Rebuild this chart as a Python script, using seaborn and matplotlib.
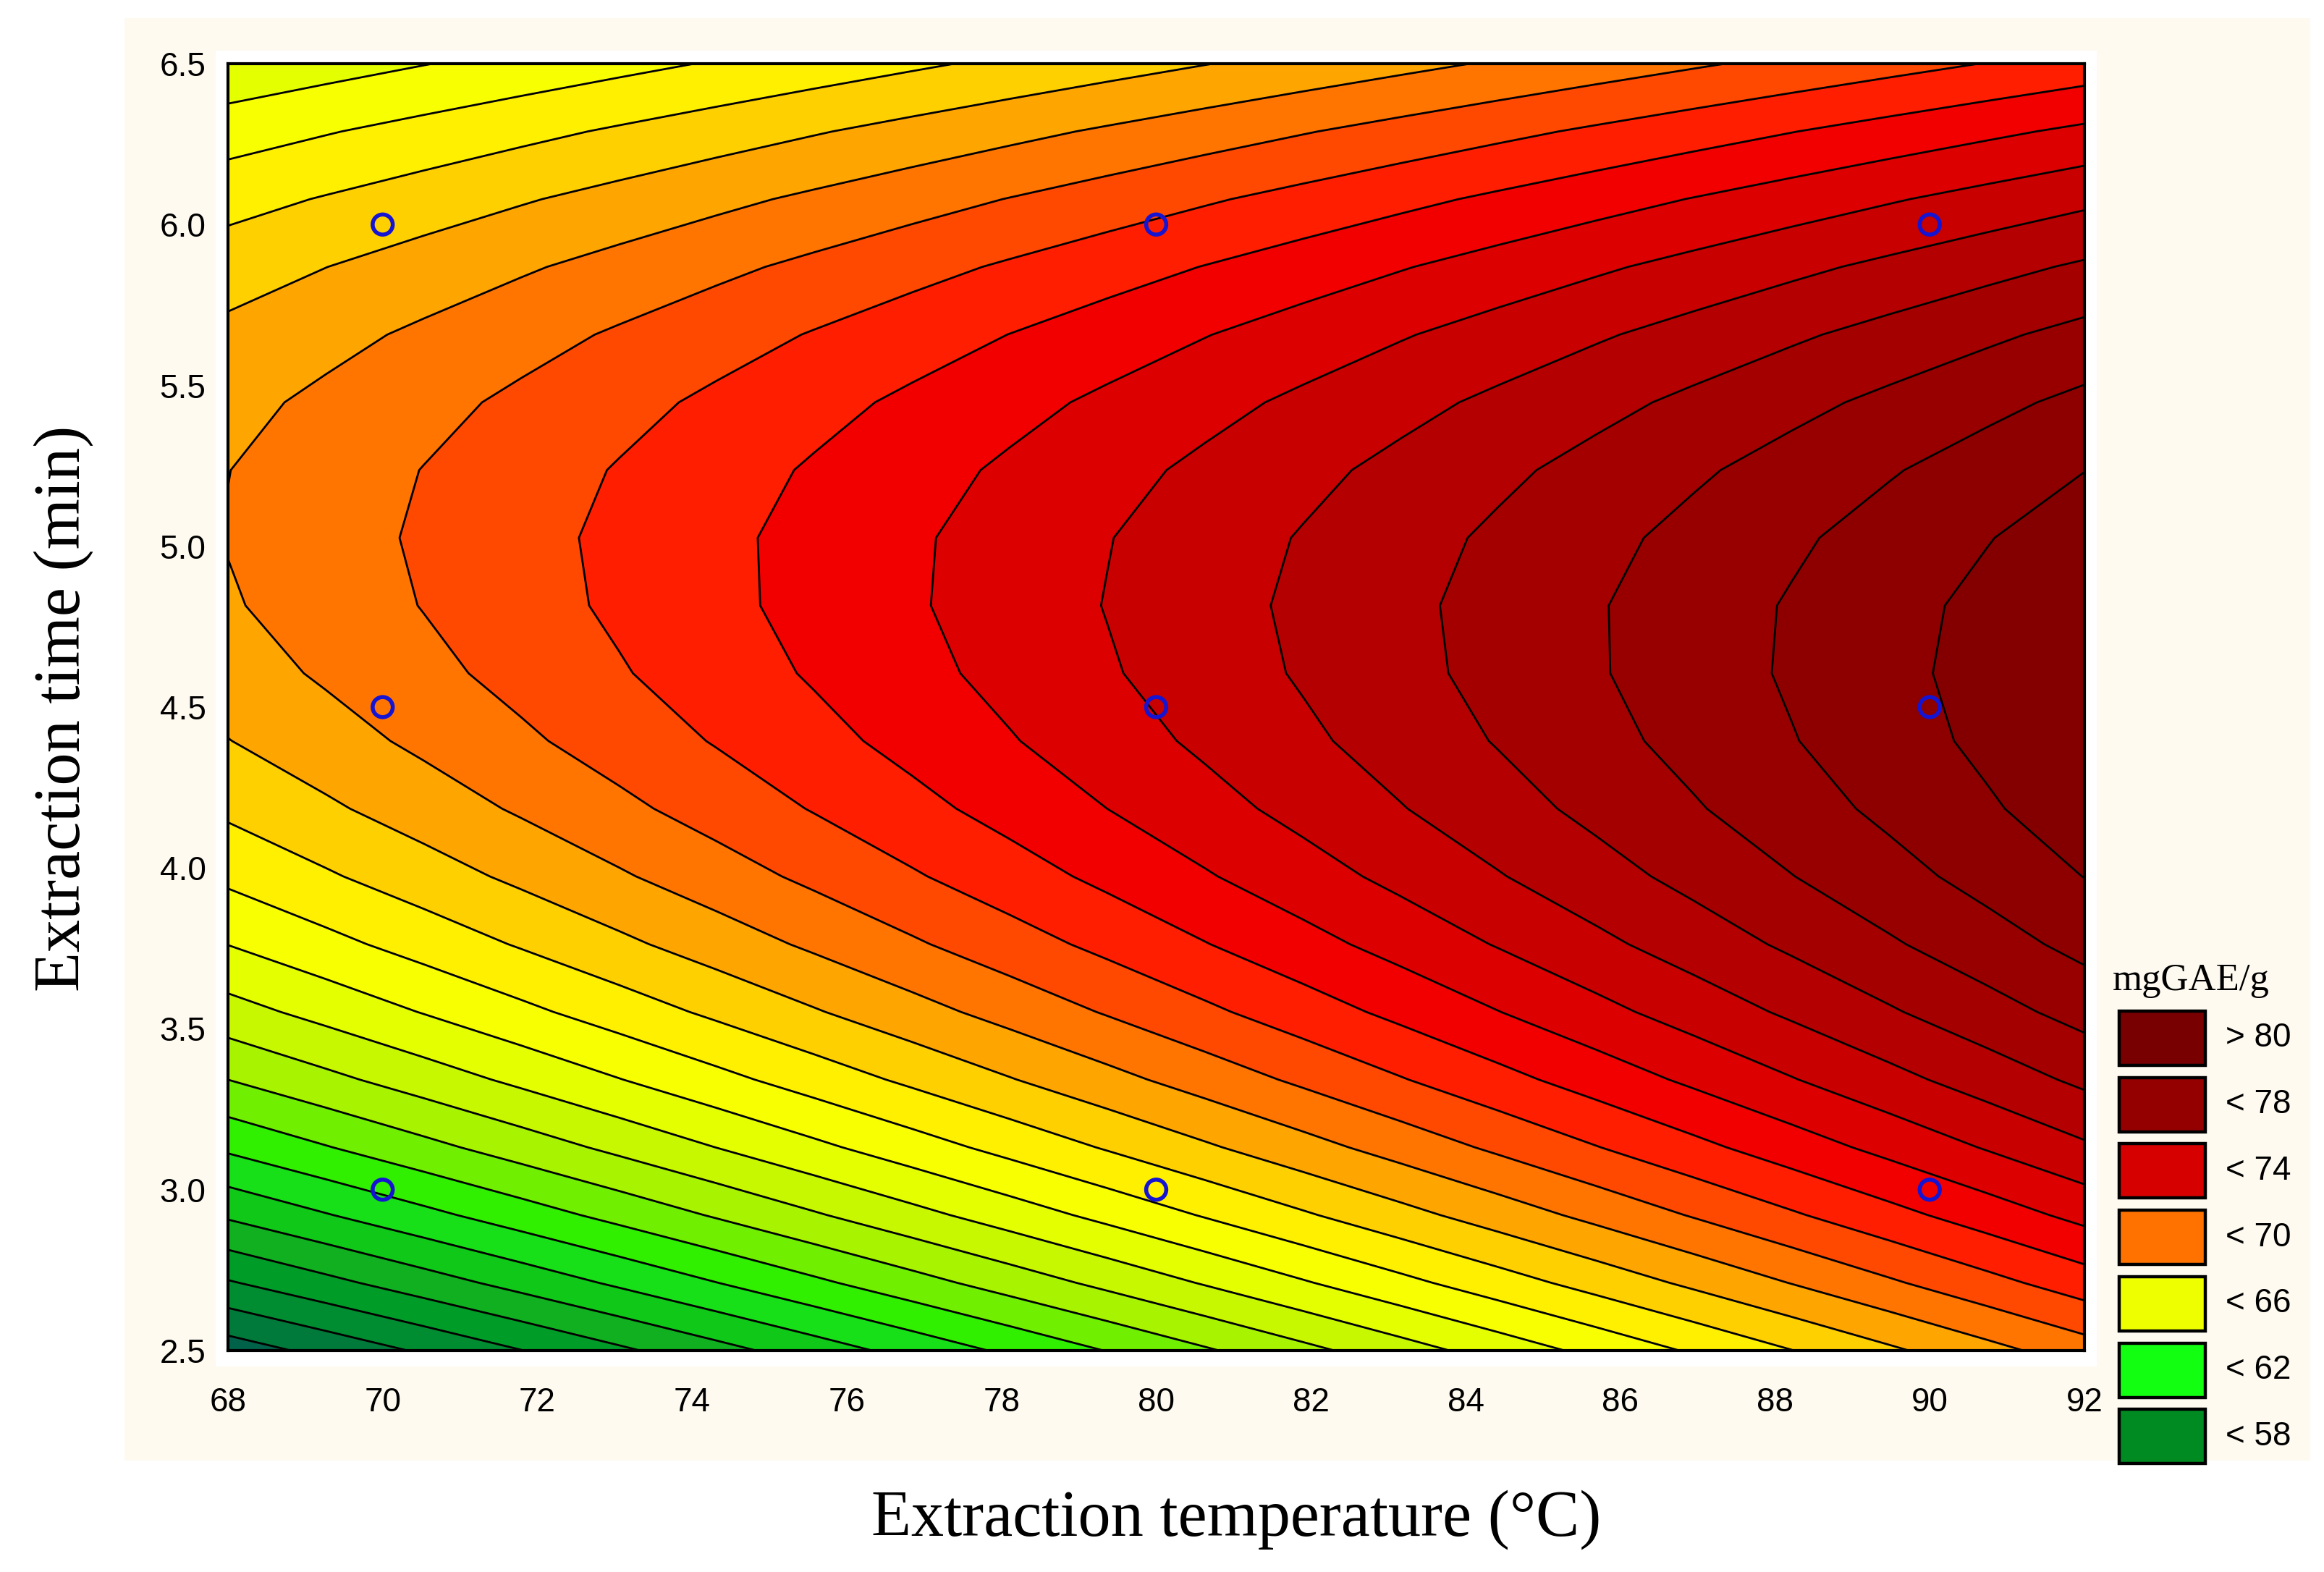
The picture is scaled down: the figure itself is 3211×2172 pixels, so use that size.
import numpy as np
import matplotlib
matplotlib.use("Agg")
import matplotlib.pyplot as plt
from matplotlib.patches import Rectangle
from matplotlib.ticker import MultipleLocator
import seaborn as sns

# 3x3 design: extraction temperature (C), extraction time (min), TPC (mgGAE/g)
TEMP = [70, 70, 70, 80, 80, 80, 90, 90, 90]
TIME = [3.0, 4.5, 6.0, 3.0, 4.5, 6.0, 3.0, 4.5, 6.0]
TPC = [61.17, 70.24, 68.69, 67.38, 75.06, 72.12, 73.64, 79.94, 75.61]

# contour levels (1 mgGAE/g apart) and the band colours between them
LEVELS = list(range(54, 82))
BAND_COLORS = [
    "#006248", "#007a3a", "#008c30", "#009c28", "#10b020", "#10c818",
    "#18e018", "#30f000", "#70f000", "#a8f400", "#c8f800", "#e4ff00",
    "#f8ff00", "#fff000", "#ffd000", "#ffa500", "#ff7500", "#ff4800",
    "#ff1e00", "#f20000", "#dc0000", "#c80000", "#b40000", "#a40000",
    "#980000", "#8e0000", "#840000",
]

LEGEND_LABELS = ["> 80", "< 78", "< 74", "< 70", "< 66", "< 62", "< 58"]
LEGEND_COLORS = ["#780000", "#940000", "#d60000", "#ff7200", "#eeff00", "#12ff12", "#008a22"]

W, H = 3212, 2172
DPI = 200

sns.set_theme(style="ticks")
plt.rcParams["font.family"] = ["Liberation Sans", "DejaVu Sans"]
plt.rcParams.update({"text.color": "black", "axes.labelcolor": "black",
                     "xtick.color": "black", "ytick.color": "black"})

# second-order response surface fitted to the design points
T = np.array(TEMP, float)
t = np.array(TIME, float)
X = np.column_stack([np.ones_like(T), T, t, T**2, t**2, T * t])
coef, *_ = np.linalg.lstsq(X, np.array(TPC), rcond=None)

tg = np.linspace(68, 92, 20)
mg = np.linspace(2.5, 6.5, 20)
TT, MM = np.meshgrid(tg, mg)
Z = (coef[0] + coef[1] * TT + coef[2] * MM + coef[3] * TT**2
     + coef[4] * MM**2 + coef[5] * TT * MM)

fig = plt.figure(figsize=(W / DPI, H / DPI), dpi=DPI, facecolor="white")

# background layer in pixel coordinates
bg = fig.add_axes([0, 0, 1, 1], zorder=0)
bg.set_xlim(0, W)
bg.set_ylim(H, 0)
bg.axis("off")
bg.add_patch(Rectangle((172, 25), 3192 - 172, 2018 - 25, fc="#fefaf0", ec="none"))
bg.add_patch(Rectangle((298, 70), 2897 - 298, 1888 - 70, fc="white", ec="none"))

ax = fig.add_axes([315 / W, 1 - 1866 / H, (2880 - 315) / W, (1866 - 88) / H], zorder=2)
ax.contourf(TT, MM, Z, levels=LEVELS, colors=BAND_COLORS, antialiased=True)
ax.contour(TT, MM, Z, levels=LEVELS, colors="black", linewidths=1.0)

sns.scatterplot(x=TEMP, y=TIME, ax=ax, marker="o", s=100, facecolor="none",
                edgecolor="#1414d2", linewidth=2.0, zorder=5)

ax.set_xlim(68, 92)
ax.set_ylim(2.5, 6.5)
ax.xaxis.set_major_locator(MultipleLocator(2))
ax.xaxis.set_minor_locator(MultipleLocator(1))
ax.yaxis.set_major_locator(MultipleLocator(0.5))
ax.yaxis.set_minor_locator(MultipleLocator(0.1))
ax.tick_params(which="both", direction="in", top=True, right=True,
               length=3.5, width=1.0, color="black")
ax.tick_params(axis="x", which="major", labelsize=16.5, pad=18)
ax.tick_params(axis="y", which="major", labelsize=16.5, pad=11)
for s in ax.spines.values():
    s.set_linewidth(1.5)
    s.set_color("black")

serif = ["Liberation Serif", "DejaVu Serif"]
fig.text(1708 / W, 1 - 2122 / H, "Extraction temperature (\u00b0C)", family=serif,
         fontsize=32.5, ha="center", va="baseline")
fig.text(88 / W, 1 - 979 / H, "Extraction time (min)", family=serif,
         fontsize=32.5, ha="center", va="center", rotation=90)

# legend
bg.text(3027, 1355, "mgGAE/g", family=serif, fontsize=19, ha="center", va="center")
for i, (lab, col) in enumerate(zip(LEGEND_LABELS, LEGEND_COLORS)):
    y0 = 1397 + i * 91.7
    bg.add_patch(Rectangle((2928, y0), 119, 75, fc=col, ec="black", lw=1.6))
    bg.text(3075, y0 + 37.5, lab, fontsize=16.5, ha="left", va="center")

fig.savefig("out.png", dpi=DPI, facecolor="white")
